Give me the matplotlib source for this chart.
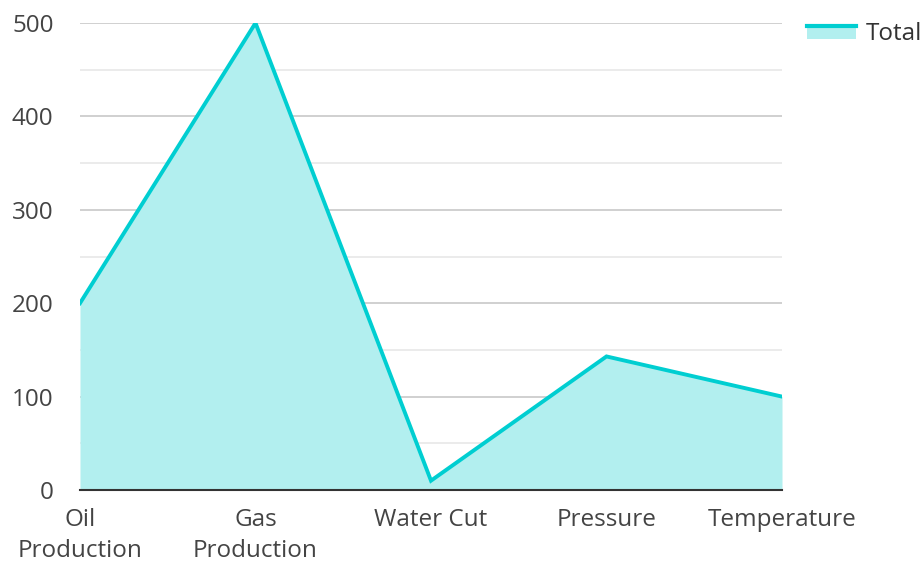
import matplotlib
matplotlib.use("Agg")
import matplotlib.pyplot as plt
from matplotlib.legend_handler import HandlerBase
from matplotlib.patches import Rectangle
from matplotlib.lines import Line2D
import numpy as np

plt.rcParams['font.family'] = ['Open Sans', 'DejaVu Sans']

categories = ["Oil\nProduction", "Gas\nProduction", "Water Cut", "Pressure", "Temperature"]
values = [200, 500, 10, 143, 100]
series_name = "Total"

line_color = "#00CED1"
fill_color = "#B2EFEF"

fig = plt.figure(figsize=(9.23, 5.62), dpi=100)
ax = fig.add_axes([80/923, 1-490/562, (782-80)/923, (490-23)/562])

x = np.arange(len(categories))
ax.fill_between(x, values, 0, color=fill_color, linewidth=0, zorder=2)
ax.plot(x, values, color=line_color, linewidth=2.8, zorder=3, solid_joinstyle='miter')

ax.set_xlim(0, len(categories)-1)
ax.set_ylim(0, 500)
ax.set_yticks(np.arange(0, 501, 100))
ax.set_yticks(np.arange(50, 500, 100), minor=True)
ax.grid(which='major', axis='y', color='#c8c8c8', linewidth=1.2, zorder=1)
ax.grid(which='minor', axis='y', color='#e8e8e8', linewidth=1.2, zorder=1)
ax.set_xticks(x)
ax.set_xticklabels(categories, linespacing=1.38)
for s in ['left', 'right', 'top']:
    ax.spines[s].set_visible(False)
ax.spines['bottom'].set_color('#333333')
ax.spines['bottom'].set_linewidth(1.5)
ax.spines['bottom'].set_zorder(4)
ax.tick_params(axis='both', which='both', length=0, labelsize=17.5, colors='#444444')
ax.tick_params(axis='y', pad=19)
ax.tick_params(axis='x', pad=13)
ax.set_axisbelow(True)


class AreaHandler(HandlerBase):
    def create_artists(self, legend, orig_handle, xdescent, ydescent, width, height, fontsize, trans):
        r = Rectangle((-xdescent, -ydescent), width, height * 0.85, facecolor=fill_color,
                      edgecolor='none', transform=trans)
        l = Line2D([-xdescent, -xdescent + width], [-ydescent + height * 0.85] * 2,
                   color=line_color, linewidth=3, transform=trans)
        return [r, l]


handle = Rectangle((0, 0), 1, 1)
leg = fig.legend([handle], [series_name], handler_map={Rectangle: AreaHandler()},
                 loc='upper left', bbox_to_anchor=(807/923, 1-22/562), frameon=False,
                 fontsize=17.5, handlelength=2.0, handleheight=0.55, handletextpad=0.4,
                 borderpad=0, borderaxespad=0)
for t in leg.get_texts():
    t.set_color('#333333')

fig.savefig("out.png", dpi=100)
